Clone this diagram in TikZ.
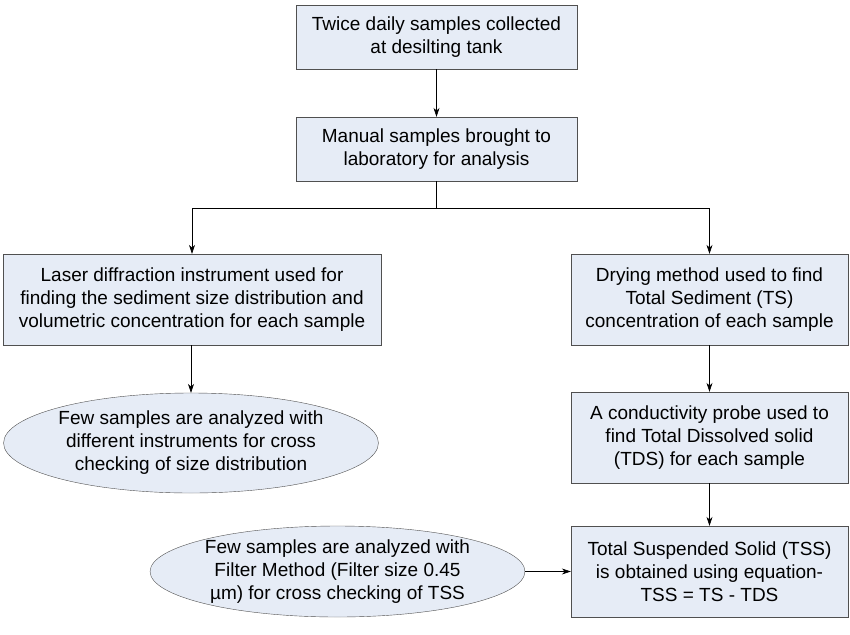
\documentclass[tikz,border=0pt]{standalone}
\usepackage{fontspec}
\setmainfont{Liberation Sans}
\usetikzlibrary{shapes.geometric,arrows.meta}
\definecolor{fillc}{HTML}{E6ECF6}
\definecolor{linec}{HTML}{505050}
\tikzset{
  box/.style={draw=linec,fill=fillc,minimum width=#1,align=center,font=\fontsize{19}{23}\selectfont,inner sep=0pt},
  oval/.style={ellipse,draw=linec,fill=fillc,minimum width=#1,align=center,font=\fontsize{19}{23}\selectfont,inner sep=0pt},
  arr/.style={-{Stealth[length=9pt,width=6pt]},draw=black,line width=0.6pt}
}
\begin{document}
\begin{tikzpicture}[x=1pt,y=-1pt]
\useasboundingbox (0,0) rectangle (850,634);
\node[box=281pt,minimum height=64pt] (b1) at (436.5,37) {Twice daily samples collected\\at desilting tank};
\node[box=281pt,minimum height=64pt] (b2) at (436.5,149) {Manual samples brought to\\laboratory for analysis};
\node[box=378pt,minimum height=91pt] (b3) at (192,299.5) {Laser diffraction instrument used for\\finding the sediment size distribution and\\volumetric concentration for each sample};
\node[box=277pt,minimum height=91pt] (b4) at (709.5,299.5) {Drying method used to find\\Total Sediment (TS)\\concentration of each sample};
\node[oval=333pt,minimum height=100pt] (e1) at (191,443) {Few samples are analyzed with\\different instruments for cross\\checking of size distribution};
\node[box=277pt,minimum height=91pt] (b5) at (709.5,437.5) {A conductivity probe used to\\find Total Dissolved solid\\(TDS) for each sample};
\node[box=277pt,minimum height=91pt] (b6) at (709.5,571.5) {Total Suspended Solid (TSS)\\is obtained using equation-\\TSS = TS - TDS};
\node[oval=319pt,minimum height=91pt] (e2) at (337.5,571.5) {Few samples are analyzed with\\Filter Method (Filter size 0.45\\µm) for cross checking of TSS};
\coordinate (j) at (436.5,208);
\draw[arr] (b1) -- (b2);
\draw[line width=0.6pt] (b2.south) -- (j);
\draw[arr] (j) -| (b3.north);
\draw[arr] (j) -| (b4.north);
\draw[arr] (e1.north |- b3.south) -- (e1.north);
\draw[arr] (b4) -- (b5);
\draw[arr] (b5) -- (b6);
\draw[arr] (e2) -- (b6);
\end{tikzpicture}
\end{document}
